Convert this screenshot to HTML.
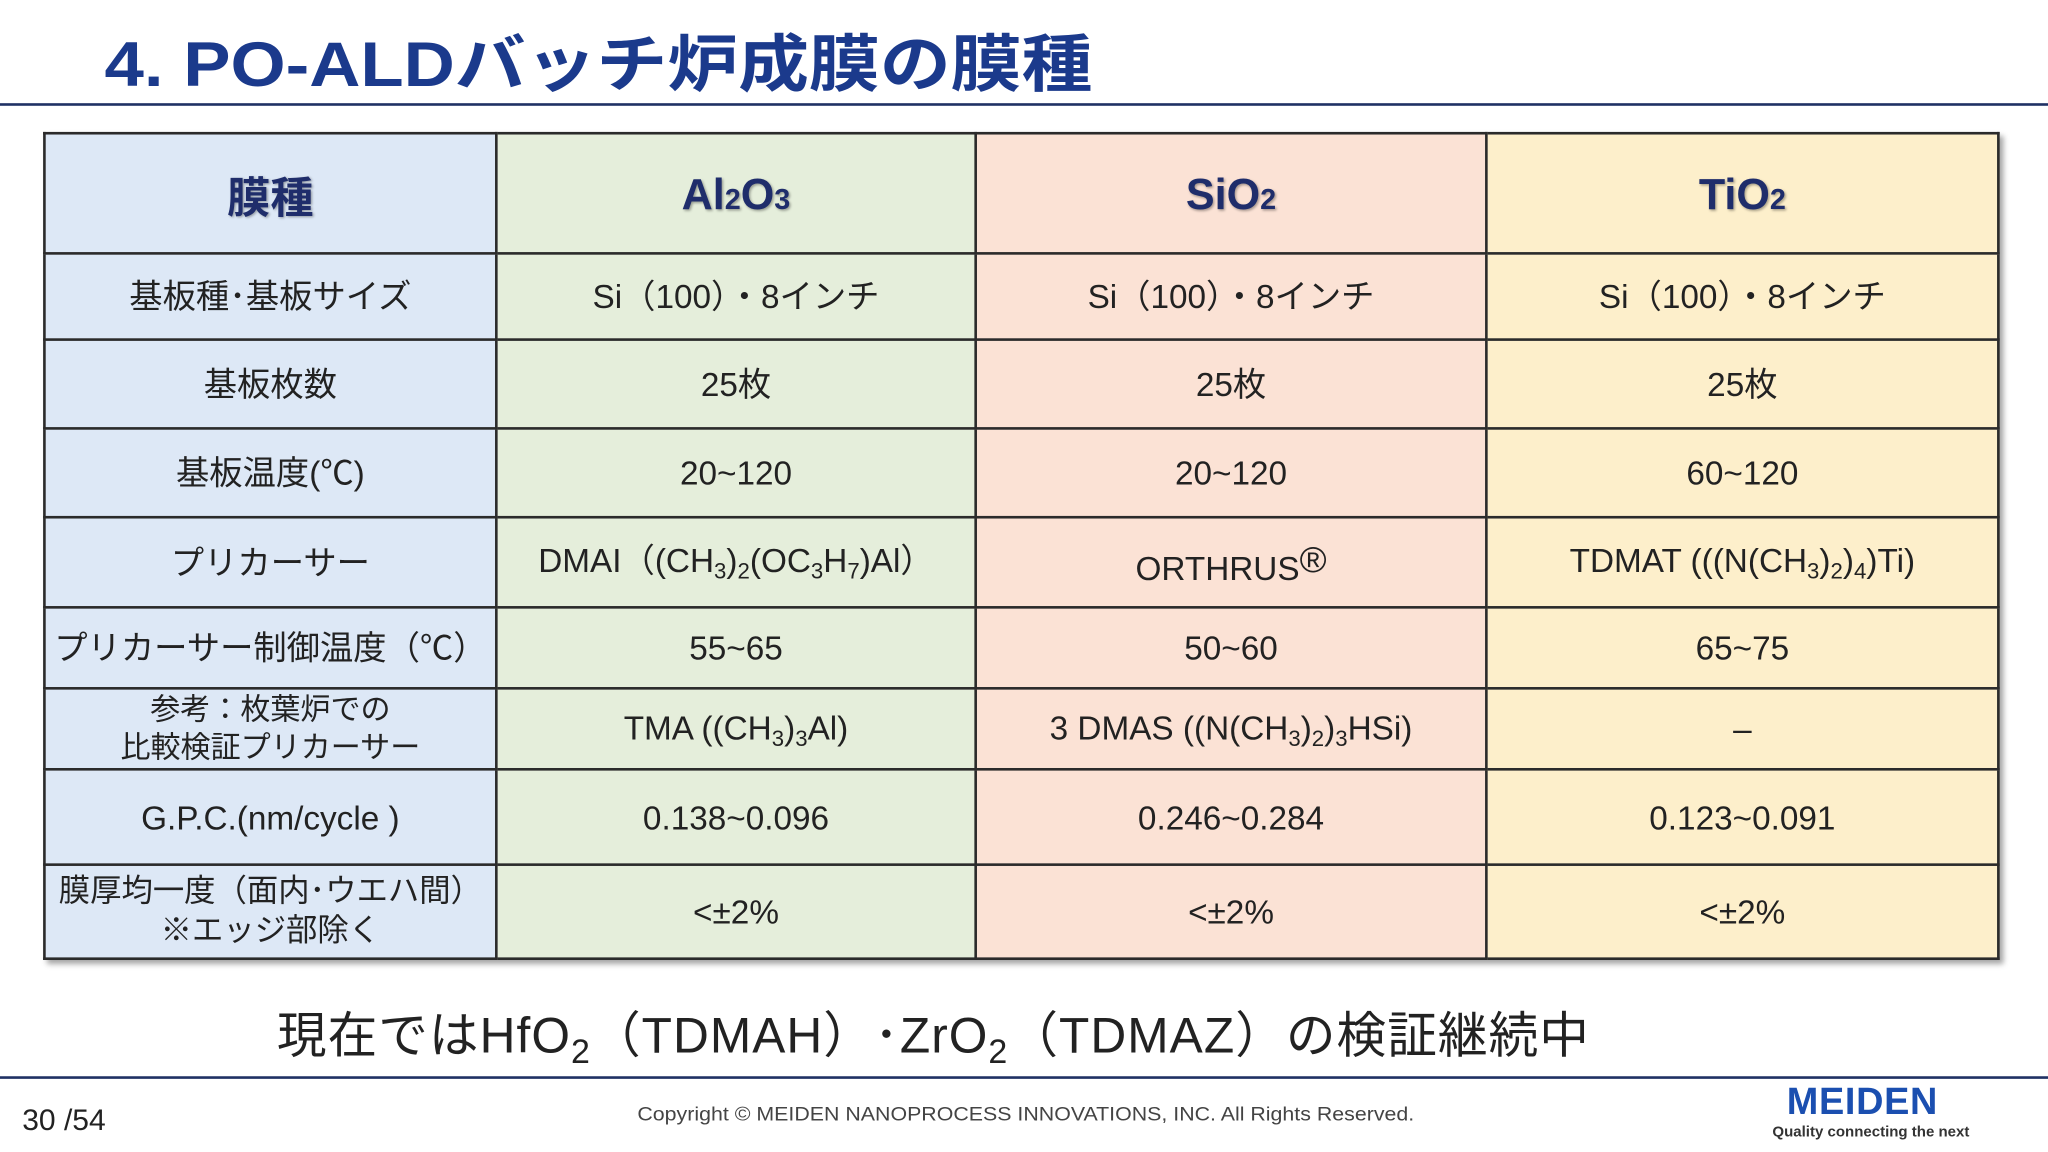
<!DOCTYPE html>
<html><head><meta charset="utf-8"><style>
html,body{margin:0;padding:0;background:#fff;width:2048px;height:1152px;overflow:hidden}
#wrap{position:absolute;left:0;top:0;width:1568px;height:882px;transform:scale(1.30612);transform-origin:0 0;font-family:"Liberation Sans","Noto Sans CJK JP",sans-serif;color:#222}
.title{position:absolute;left:80px;top:10px;font-size:48px;font-weight:bold;color:#1b3a8c;white-space:nowrap;transform:scaleX(1.13);transform-origin:0 0}
.hline{position:absolute;left:0;width:1568px;height:2px;background:#1f3164}
table{position:absolute;left:33px;top:101px;width:1496px;table-layout:fixed;border-collapse:collapse;box-shadow:3px 3px 4px rgba(0,0,0,.35)}
td{border:2px solid #2b2b2b;text-align:center;font-size:25.5px;padding:3px 0 0 0;white-space:nowrap;line-height:1.2;overflow:visible}
.c1{background:#dde8f6}
.c2{background:#e5eedb}
.c3{background:#fbe2d5}
.c4{background:#fdefcb}
th{border:2px solid #2b2b2b;font-size:33px;font-weight:bold;color:#1f2d6b;text-shadow:1px 1px 2px rgba(0,0,0,.35);height:86px;padding-top:3px}
sub{font-size:17px;vertical-align:-5px}
td.small{font-size:23px;line-height:1.25;padding:0}
.note{position:absolute;left:212px;top:762px;font-size:38px;white-space:nowrap;color:#222;letter-spacing:0.8px}
.note sub{font-size:26px;vertical-align:-8px}
.page{position:absolute;left:17px;top:844px;font-size:23px}
.copy{position:absolute;left:488px;top:845px;font-size:15px;color:#444;white-space:nowrap;transform:scaleX(1.09);transform-origin:0 0}
.logo{position:absolute;left:1368px;top:828px;font-size:29px;font-weight:bold;color:#1b4fb0;letter-spacing:0.5px}
.tag{position:absolute;left:1357px;top:861px;font-size:11.5px;font-weight:bold;color:#333}
</style></head><body>
<div id="wrap">
<div class="title">4. PO-ALDバッチ炉成膜の膜種</div>
<div class="hline" style="top:79px"></div>
<table>
<colgroup><col style="width:346px"><col style="width:367px"><col style="width:391px"><col style="width:392px"></colgroup>
<tr>
<th class="c1">膜種</th>
<th class="c2">Al<span style="font-size:22px">2</span>O<span style="font-size:22px">3</span></th>
<th class="c3">SiO<span style="font-size:22px">2</span></th>
<th class="c4">TiO<span style="font-size:22px">2</span></th></tr>
<tr style="height:66px"><td class="c1">基板種･基板サイズ</td><td class="c2">Si（100）・8インチ</td><td class="c3">Si（100）・8インチ</td><td class="c4">Si（100）・8インチ</td></tr>
<tr style="height:68px"><td class="c1">基板枚数</td><td class="c2">25枚</td><td class="c3">25枚</td><td class="c4">25枚</td></tr>
<tr style="height:68px"><td class="c1">基板温度(℃)</td><td class="c2">20~120</td><td class="c3">20~120</td><td class="c4">60~120</td></tr>
<tr style="height:69px"><td class="c1">プリカーサー</td><td class="c2">DMAI（(CH<sub>3</sub>)<sub>2</sub>(OC<sub>3</sub>H<sub>7</sub>)Al）</td><td class="c3">ORTHRUS<span style="font-size:28px;vertical-align:6px">®</span></td><td class="c4">TDMAT (((N(CH<sub>3</sub>)<sub>2</sub>)<sub>4</sub>)Ti)</td></tr>
<tr style="height:62px"><td class="c1">プリカーサー制御温度（℃）</td><td class="c2">55~65</td><td class="c3">50~60</td><td class="c4">65~75</td></tr>
<tr style="height:62px"><td class="c1 small">参考：枚葉炉での<br>比較検証プリカーサー</td><td class="c2">TMA ((CH<sub>3</sub>)<sub>3</sub>Al)</td><td class="c3">3 DMAS ((N(CH<sub>3</sub>)<sub>2</sub>)<sub>3</sub>HSi)</td><td class="c4">–</td></tr>
<tr style="height:73px"><td class="c1">G.P.C.(nm/cycle )</td><td class="c2">0.138~0.096</td><td class="c3">0.246~0.284</td><td class="c4">0.123~0.091</td></tr>
<tr style="height:72px"><td class="c1 small" style="font-size:24px">膜厚均一度（面内･ウエハ間）<br>※エッジ部除く</td><td class="c2">&lt;±2%</td><td class="c3">&lt;±2%</td><td class="c4">&lt;±2%</td></tr>
</table>
<div class="note">現在ではHfO<sub>2</sub>（TDMAH）･ZrO<sub>2</sub>（TDMAZ）の検証継続中</div>
<div class="hline" style="top:824px"></div>
<div class="page">30 /54</div>
<div class="copy">Copyright © MEIDEN NANOPROCESS INNOVATIONS, INC. All Rights Reserved.</div>
<div class="logo">MEIDEN</div>
<div class="tag">Quality connecting the next</div>
</div>
</body></html>
